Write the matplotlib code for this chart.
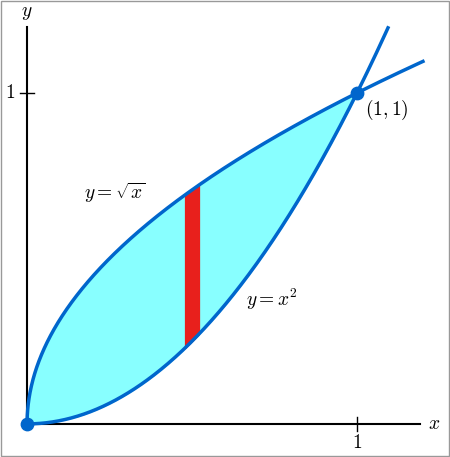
import numpy as np
import matplotlib
matplotlib.use("Agg")
import matplotlib.pyplot as plt

plt.rcParams['mathtext.fontset'] = 'cm'
plt.rcParams['font.family'] = ['DejaVu Serif']

strip_x = [0.479, 0.521]
points = [(0, 0), (1, 1)]
xmax_sq, xmax_sqrt = 1.094, 1.2

fig = plt.figure(figsize=(4.5, 4.57), dpi=100)
ax = fig.add_axes([0, 0, 1, 1])
ax.set_xlim(-0.082, 1.282)
ax.set_ylim(-0.1, 1.281)
ax.axis('off')
fig.patches.append(plt.Rectangle((0.002, 0.002), 0.996, 0.996, transform=fig.transFigure,
                                 fill=False, edgecolor='#999999', lw=1))

blue = '#0066cc'
x = np.linspace(0, 1, 400)
ax.fill_between(x, x**2, np.sqrt(x), color='#88ffff', zorder=1)
xs = np.linspace(strip_x[0], strip_x[1], 20)
ax.fill_between(xs, xs**2, np.sqrt(xs), color='#e8201c', zorder=2)

ax.plot([0, 1.19], [0, 0], color='black', lw=1.5, zorder=3)
ax.plot([0, 0], [0, 1.2], color='black', lw=1.5, zorder=3)
ax.plot([1, 1], [-0.02, 0.02], color='black', lw=1)
ax.plot([-0.02, 0.02], [1, 1], color='black', lw=1)

x1 = np.linspace(0, xmax_sq, 400)
ax.plot(x1, x1**2, color=blue, lw=2.5, zorder=4)
x2 = np.linspace(0, xmax_sqrt, 2000)
ax.plot(x2, np.sqrt(x2), color=blue, lw=2.5, zorder=4)
ax.scatter(*zip(*points), s=80, color=blue, zorder=5)

fs = 14
ax.text(1.0, -0.03, '$1$', ha='center', va='top', fontsize=fs)
ax.text(-0.035, 1.0, '$1$', ha='right', va='center', fontsize=fs)
ax.text(1.215, 0.0, '$x$', ha='left', va='center', fontsize=fs)
ax.text(0.0, 1.215, '$y$', ha='center', va='bottom', fontsize=fs)
ax.text(0.267, 0.698, r'$y=\sqrt{x}$', ha='center', va='center', fontsize=fs)
ax.text(0.742, 0.375, r'$y=x^2$', ha='center', va='center', fontsize=fs)
ax.text(1.09, 0.95, r'$(1,1)$', ha='center', va='center', fontsize=fs)

fig.savefig('out.png', dpi=100)
